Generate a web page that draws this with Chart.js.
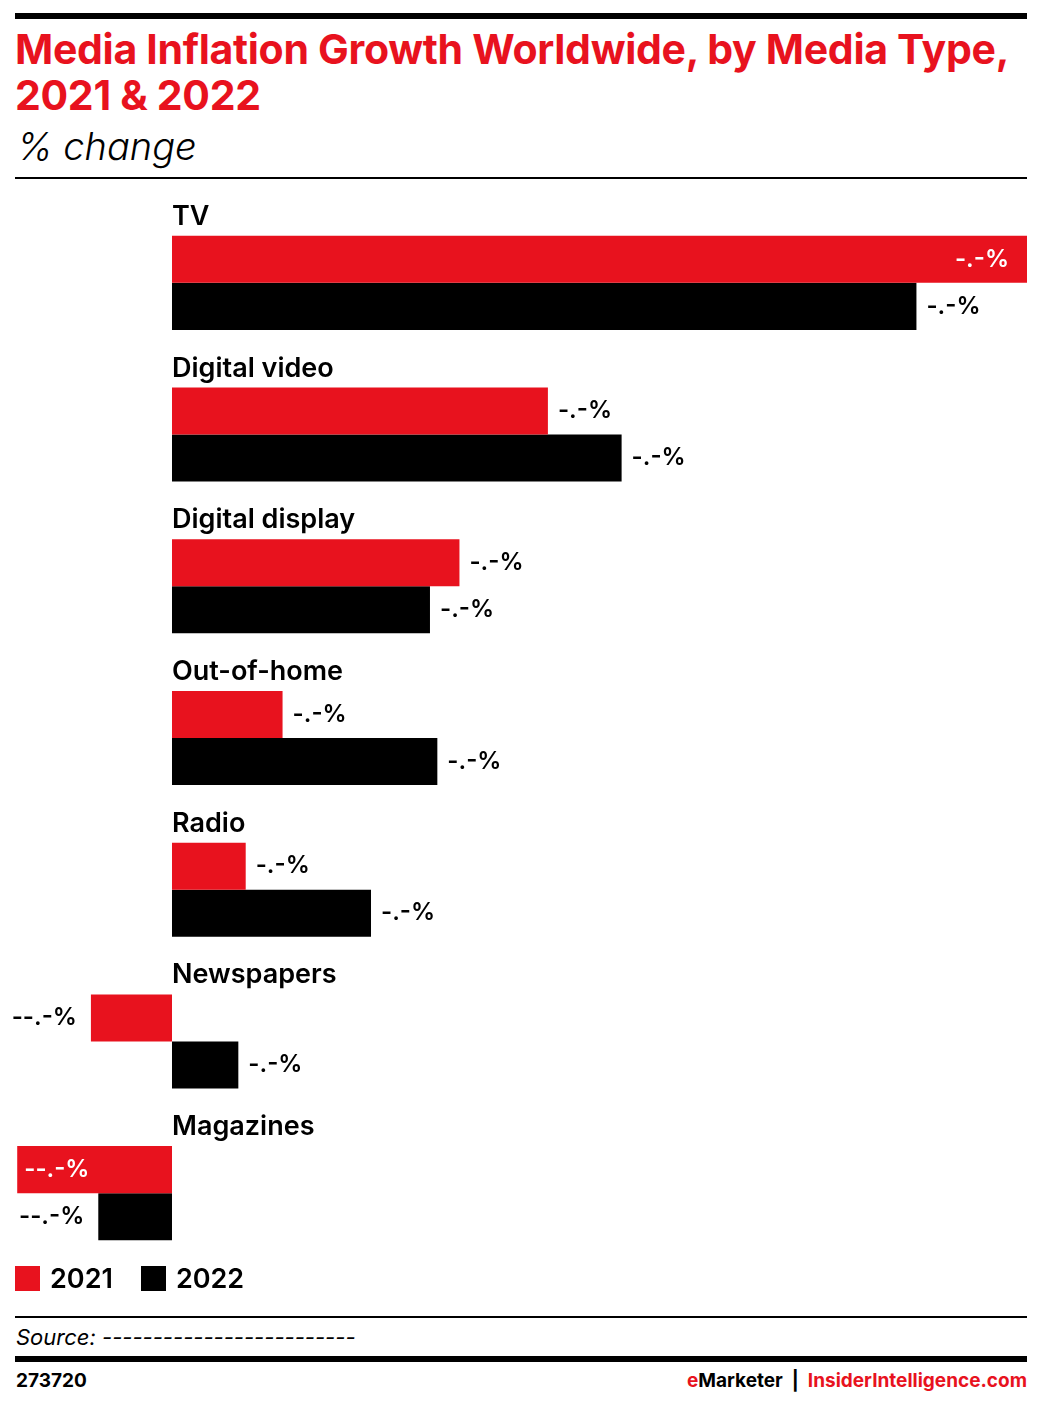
<!DOCTYPE html>
<html>
<head>
<meta charset="utf-8">
<script src="https://cdn.jsdelivr.net/npm/chart.js@4"></script>
<style>
  body { margin: 0; background: #fff; font-family: Inter, "Noto Sans", sans-serif; }
  #page { position: relative; width: 1040px; height: 1405px; overflow: hidden; }
  .abs { position: absolute; }
  .rule { position: absolute; left: 15px; width: 1012px; background: #000; }
  #title { left: 15px; top: 26px; color: #e8121e; font-weight: 700; font-size: 41px; line-height: 46px; letter-spacing: -0.3px; }
  #sub { left: 17px; top: 123px; font-style: italic; font-weight: 300; font-size: 38px; }
  #legend { left: 15px; top: 1262px; font-weight: 600; font-size: 27px; display: flex; align-items: center; }
  #legend span.box { display: inline-block; width: 25px; height: 25px; margin-right: 10px; }
  #legend span.txt { margin-right: 28px; }
  #source { left: 16px; top: 1324px; font-style: italic; font-size: 22px; }
  #id { left: 16px; top: 1369px; font-weight: 700; font-size: 19px; }
  #brand { right: 13px; top: 1369px; font-weight: 700; font-size: 19px; }
  #wrap { position: absolute; left: 0; top: 179px; width: 1040px; height: 1120px; }
</style>
</head>
<body>
<div id="page">
  <div class="rule" style="top:13px;height:6px"></div>
  <div id="title" class="abs">Media Inflation Growth Worldwide, by Media Type,<br>2021 &amp; 2022</div>
  <div id="sub" class="abs">% change</div>
  <div class="rule" style="top:177px;height:2px"></div>
  <div id="wrap"><canvas id="chart"></canvas></div>
  <div id="legend" class="abs">
    <span class="box" style="background:#e8121e"></span><span class="txt">2021</span>
    <span class="box" style="background:#000"></span><span class="txt">2022</span>
  </div>
  <div class="rule" style="top:1316px;height:2px"></div>
  <div id="source" class="abs">Source: -------------------------</div>
  <div class="rule" style="top:1356px;height:6px"></div>
  <div id="id" class="abs">273720</div>
  <div id="brand" class="abs"><span style="color:#e8121e">e</span>Marketer &nbsp;|&nbsp; <span style="color:#e8121e">InsiderIntelligence.com</span></div>
</div>
<script>
const categories = ['TV', 'Digital video', 'Digital display', 'Out-of-home', 'Radio', 'Newspapers', 'Magazines'];
const years = ['2021', '2022'];
const values2021 = [11.6, 5.1, 3.9, 1.5, 1.0, -1.1, -2.1];
const values2022 = [10.1, 6.1, 3.5, 3.6, 2.7, 0.9, -1.0];
// values are masked in the source picture
const labels2021 = ['-.-%', '-.-%', '-.-%', '-.-%', '-.-%', '--.-%', '--.-%'];
const labels2022 = ['-.-%', '-.-%', '-.-%', '-.-%', '-.-%', '-.-%', '--.-%'];

const RED = '#e8121e';
const FONT = 'Inter, "Noto Sans", sans-serif';

// category names above each group + value labels at bar ends
const barText = {
    id: 'barText',
    afterDatasetsDraw(chart) {
        const ctx = chart.ctx;
        const area = chart.chartArea;
        const x0 = chart.scales.x.getPixelForValue(0);
        const texts = [labels2021, labels2022];
        ctx.save();
        ctx.textBaseline = 'middle';
        ctx.font = '600 24px ' + FONT;
        chart.data.datasets.forEach((ds, di) => {
            chart.getDatasetMeta(di).data.forEach((bar, i) => {
                const t = texts[di][i];
                const w = ctx.measureText(t).width;
                const v = ds.data[i];
                if (v >= 0) {
                    if (bar.x + 10 + w > area.right) {
                        ctx.fillStyle = '#fff'; ctx.textAlign = 'right';
                        ctx.fillText(t, bar.x - 18, bar.y);
                    } else {
                        ctx.fillStyle = '#000'; ctx.textAlign = 'left';
                        ctx.fillText(t, bar.x + 10, bar.y);
                    }
                } else {
                    if (bar.x - 14 - w < 0) {
                        ctx.fillStyle = '#fff'; ctx.textAlign = 'left';
                        ctx.fillText(t, bar.x + 7, bar.y);
                    } else {
                        ctx.fillStyle = '#000'; ctx.textAlign = 'right';
                        ctx.fillText(t, bar.x - 14, bar.y);
                    }
                }
            });
        });
        const first = chart.getDatasetMeta(0).data;
        ctx.font = '600 27px ' + FONT;
        ctx.fillStyle = '#000';
        ctx.textAlign = 'left';
        ctx.textBaseline = 'alphabetic';
        first.forEach((bar, i) => {
            ctx.fillText(categories[i], x0, bar.y - bar.height / 2 - 11);
        });
        ctx.restore();
    }
};

const ctx = document.getElementById('chart').getContext('2d');
new Chart(ctx, {
    type: 'bar',
    data: {
        labels: categories,
        datasets: [{
            label: years[0],
            data: values2021,
            backgroundColor: RED
        }, {
            label: years[1],
            data: values2022,
            backgroundColor: '#000'
        }]
    },
    options: {
        indexAxis: 'y',
        responsive: true,
        maintainAspectRatio: false,
        animation: false,
        layout: { padding: { left: 15, right: 13, top: 28, bottom: 30 } },
        datasets: { bar: { categoryPercentage: 0.62, barPercentage: 1, borderWidth: 0 } },
        scales: {
            x: { display: false, min: -2.13, max: 11.6 },
            y: { display: false }
        },
        plugins: {
            legend: { display: false },
            tooltip: { enabled: false }
        }
    },
    plugins: [barText]
});
</script>
</body>
</html>
